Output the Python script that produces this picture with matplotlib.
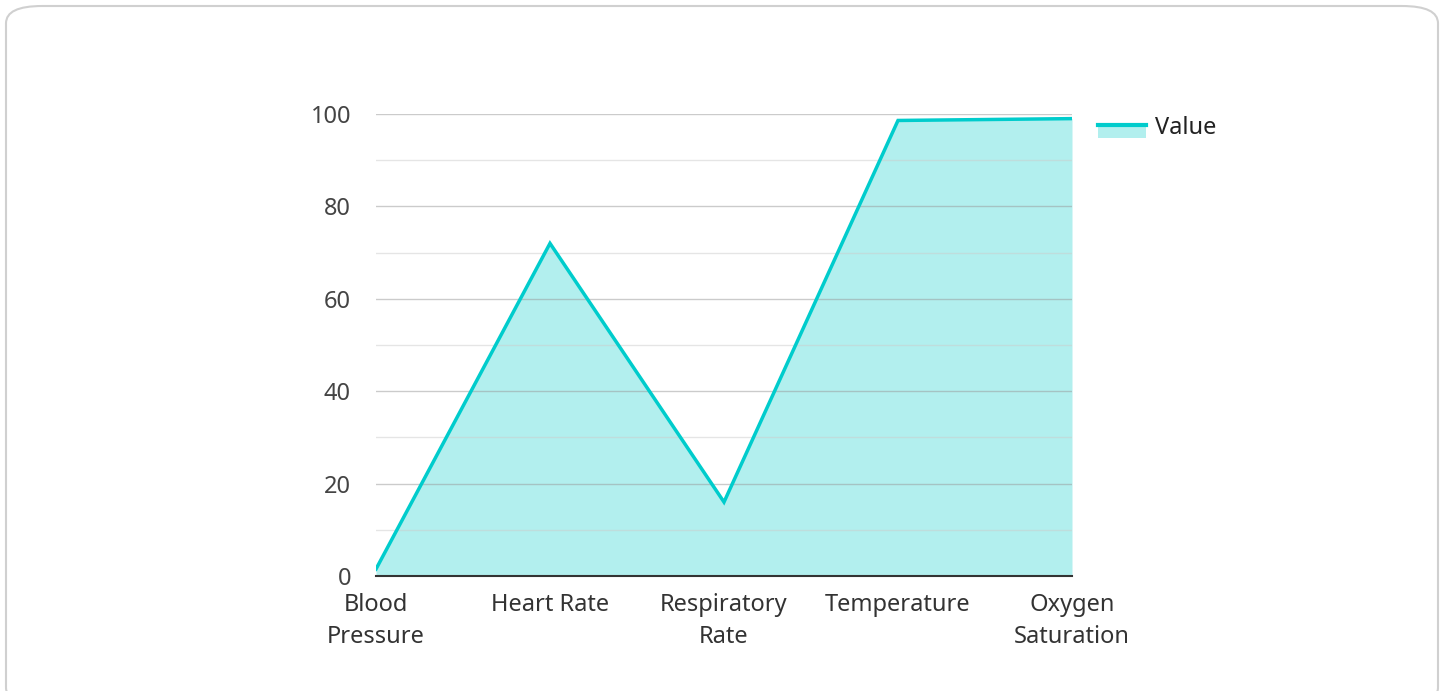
import numpy as np
import matplotlib.pyplot as plt
from matplotlib.patches import FancyBboxPatch, Rectangle
from matplotlib.lines import Line2D

plt.rcParams['font.family'] = ['Noto Sans', 'DejaVu Sans']

categories = ['Blood\nPressure', 'Heart Rate', 'Respiratory\nRate', 'Temperature', 'Oxygen\nSaturation']
values = [1.5, 72, 16, 98.6, 99]
series_name = 'Value'

line_color = '#00cccc'
fill_color = '#b2efee'

fig = plt.figure(figsize=(14.45, 6.91), dpi=100)
W, H = 1445, 691

# card border
card = FancyBboxPatch((6 / W, -0.02), 1432 / W, (691 - 6) / H + 0.02,
                      boxstyle='round,pad=0,rounding_size=0.025',
                      transform=fig.transFigure, facecolor='white',
                      edgecolor='#d0d0d0', linewidth=1.5, zorder=-5)
fig.patches.append(card)

ax = fig.add_axes([376 / W, 1 - 576 / H, (1072 - 376) / W, (576 - 114) / H])
ax.set_facecolor('none')
ax.set_zorder(5)

x = np.arange(len(categories))
ax.fill_between(x, values, 0, color=fill_color, linewidth=0, zorder=2)
ax.plot(x, values, color=line_color, linewidth=2.5, zorder=3, solid_joinstyle='miter')

ax.set_xlim(0, len(categories) - 1)
ax.set_ylim(0, 100)
ax.set_yticks(np.arange(0, 101, 20))
ax.set_yticks(np.arange(10, 100, 20), minor=True)
ax.set_axisbelow(False)
ax.grid(True, which='major', axis='y', color='#999999', alpha=0.5, linewidth=1)
ax.grid(True, which='minor', axis='y', color='#cccccc', alpha=0.5, linewidth=1)

ax.set_xticks(x)
ax.set_xticklabels(categories, linespacing=1.45)
for s in ['left', 'right', 'top']:
    ax.spines[s].set_visible(False)
ax.spines['bottom'].set_color('#333333')
ax.spines['bottom'].set_linewidth(1.5)
ax.spines['bottom'].set_zorder(4)
ax.tick_params(axis='both', which='both', length=0, labelsize=17, labelcolor='#444444')
ax.tick_params(axis='y', pad=18)
ax.tick_params(axis='x', pad=12, labelcolor='#333333')

# legend
lx0, lx1 = 1098 / W, 1146 / W
fig.patches.append(Rectangle((lx0, 1 - 138 / H), lx1 - lx0, 12 / H,
                             transform=fig.transFigure, facecolor=fill_color, edgecolor='none'))
fig.lines.append(Line2D([lx0, lx1], [1 - 125 / H, 1 - 125 / H], transform=fig.transFigure,
                        color=line_color, linewidth=3))
fig.text(1155 / W, 1 - 128 / H, series_name, fontsize=17, color='#222222', va='center', ha='left')

fig.savefig('out.png', dpi=100)
